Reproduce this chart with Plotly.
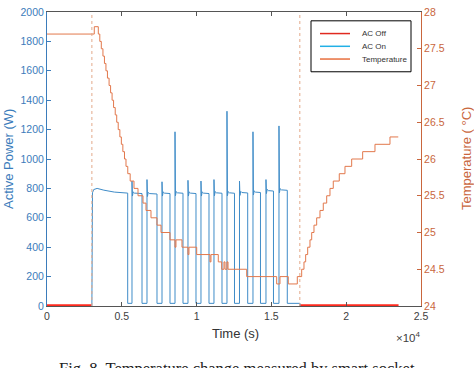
import plotly.graph_objects as go

# ---------------- data ----------------
# AC Off (red) : time (s), power (W)
off_t = [0, 3000, None, 16900, 23500]
off_p = [0, 0, None, 0, 0]

# AC On : first continuous run
first_on_t = [3000, 3000, 3040, 3120, 3350, 3800, 4500, 5394]
first_on_p = [0, 690, 770, 792, 800, 788, 775, 768]

# compressor off intervals (start, end) in s, and the idle level (W)
low_start = [5394, 6350, 7352, 8221, 9090, 9959, 10828, 11697, 12533, 13415, 14270, 15139, 16062]
low_end = [5681, 6684, 7687, 8556, 9424, 10293, 11162, 12031, 12867, 13769, 14638, 15507, 16910]
low_level = 18
# peak at each restart and running plateau, one per ON cycle
start_peak = [850, 860, 845, 1185, 855, 850, 860, 1325, 850, 1185, 860, 1225]
plateau = [768, 765, 768, 770, 768, 768, 770, 770, 772, 775, 785, 790]

# Temperature (deg C) : step times (s) and values
temp_t = [0, 3160, 3430, 3530, 3630, 3740, 3840, 3940, 4040, 4150, 4250, 4350,
          4450, 4560, 4660, 4760, 4870, 4970, 5070, 5180, 5280, 5400, 5560,
          5815, 6083, 6417, 6617, 6951, 7352, 7620, 8221, 8556, 8620, 9023,
          9424, 9490, 10006, 10895, 10960, 11450, 11677, 11830, 11900, 12030,
          12100, 13348, 15353, 15574, 16129, 16731, 17024, 17178, 17291, 17425,
          17579, 17693, 17846, 18027, 18247, 18468, 18696, 18916, 19136, 19537,
          19918, 20366, 21101, 21924, 22926, 23481]
temp_v = [27.7, 27.8, 27.7, 27.6, 27.5, 27.4, 27.3, 27.2, 27.1, 27.0, 26.9, 26.8,
          26.7, 26.6, 26.5, 26.4, 26.3, 26.2, 26.1, 26.0, 25.9, 25.8, 25.7,
          25.6, 25.5, 25.4, 25.3, 25.2, 25.1, 25.0, 24.9, 24.8, 24.9, 24.8,
          24.7, 24.8, 24.7, 24.6, 24.7, 24.6, 24.5, 24.6, 24.5, 24.6,
          24.5, 24.4, 24.3, 24.4, 24.3, 24.4, 24.5, 24.6, 24.7, 24.8,
          24.9, 25.0, 25.1, 25.2, 25.3, 25.4, 25.5, 25.6, 25.7, 25.8,
          25.9, 26.0, 26.1, 26.2, 26.3, 26.3]

switch_times = [3000, 16900]

x_tickvals = [0, 5000, 10000, 15000, 20000, 25000]
x_ticktext = ["0", "0.5", "1", "1.5", "2", "2.5"]
y_tickvals = list(range(0, 2001, 200))
y2_tickvals = [24, 24.5, 25, 25.5, 26, 26.5, 27, 27.5, 28]
y2_ticktext = ["24", "24.5", "25", "25.5", "26", "26.5", "27", "27.5", "28"]

legend_names = ["AC Off", "AC On", "Temperature"]

# ---------------- build AC On waveform from the listed values ----------------
on_t = list(first_on_t)
on_p = list(first_on_p)
for i in range(len(low_start)):
    on_t += [low_start[i], low_end[i]]
    on_p += [low_level, low_level]
    if i < len(start_peak):
        t_on, t_off = low_end[i], low_start[i + 1]
        pl = plateau[i]
        on_t += [t_on, t_on + 30, t_on + 80, t_on + 160, t_off]
        on_p += [start_peak[i], pl - 20, pl + 8, pl, pl - 3]
on_t += [16910]
on_p += [0]

BLUE = "#3f8cc8"
BLUE_AX = "#3b7cbb"
ORANGE = "#e2784c"
ORANGE_AX = "#c9663d"
RED = "#ff2a1e"
FONT = "Liberation Sans, Arial, sans-serif"
legend_colors = ["#e02a20", "#22b0e6", "#e8703f"]

fig = go.Figure()
fig.add_trace(go.Scatter(x=off_t, y=off_p, mode="lines", name="AC Off",
                         line=dict(color=RED, width=3.5), connectgaps=False))
fig.add_trace(go.Scatter(x=on_t, y=on_p, mode="lines", name="AC On",
                         line=dict(color=BLUE, width=1)))
fig.add_trace(go.Scatter(x=temp_t, y=temp_v, mode="lines", name="Temperature",
                         line=dict(color=ORANGE, width=1, shape="hv"), yaxis="y2"))

for st in switch_times:
    fig.add_shape(type="line", xref="x", yref="paper", x0=st, x1=st, y0=0, y1=1,
                  line=dict(color="#e3a98a", width=1, dash="dot"))

fig.update_layout(
    width=474, height=368,
    margin=dict(l=47, r=53, t=6, b=62),
    paper_bgcolor="white", plot_bgcolor="white",
    font=dict(family=FONT, size=10.5, color="#404040"),
    showlegend=False,
    xaxis=dict(range=[0, 25000], tickvals=x_tickvals, ticktext=x_ticktext,
               ticks="inside", ticklen=4, tickcolor="#555555",
               showline=True, linecolor="#555555", linewidth=1, mirror="ticks",
               showgrid=False, zeroline=False, ticklabeloverflow="allow",
               tickfont=dict(size=10.5, color="#404040")),
    yaxis=dict(range=[0, 2000], tickvals=y_tickvals,
               ticks="inside", ticklen=4, tickcolor=BLUE_AX,
               showline=True, linecolor=BLUE_AX, linewidth=1,
               showgrid=False, zeroline=False, ticklabeloverflow="allow",
               tickfont=dict(size=10.5, color=BLUE_AX)),
    yaxis2=dict(range=[24, 28], tickvals=y2_tickvals, ticktext=y2_ticktext,
                overlaying="y", side="right",
                ticks="inside", ticklen=4, tickcolor=ORANGE_AX,
                showline=True, linecolor=ORANGE_AX, linewidth=1,
                showgrid=False, zeroline=False, ticklabeloverflow="allow",
                tickfont=dict(size=10.5, color=ORANGE_AX)),
)

# pixel -> paper helpers for the plot area (47..421, 6..306)
def px(xp):
    return (xp - 47) / 374.0

def py(yp):
    return (306 - yp) / 300.0

# legend box drawn as in the reference
fig.add_shape(type="rect", xref="paper", yref="paper",
              x0=px(311), x1=px(411), y0=py(67), y1=py(15),
              line=dict(color="black", width=1), fillcolor="white", layer="above")
for k, (name, col) in enumerate(zip(legend_names, legend_colors)):
    yy = [28, 41, 54][k]
    fig.add_shape(type="line", xref="paper", yref="paper",
                  x0=px(320), x1=px(350), y0=py(yy), y1=py(yy),
                  line=dict(color=col, width=1.5), layer="above")
    fig.add_annotation(xref="paper", yref="paper", x=px(360), y=py(yy),
                       xanchor="left", yanchor="middle", showarrow=False,
                       text=name, font=dict(size=8, color="#333333"))

annots = [
    dict(text="Active Power (W)", x=px(8), y=0.5, textangle=-90,
         font=dict(size=13, color=BLUE_AX)),
    dict(text="Temperature ( °C)", x=px(466), y=0.5, textangle=-90,
         font=dict(size=13, color=ORANGE_AX)),
    dict(text="Time (s)", x=px(235), y=py(334), font=dict(size=13, color="#333333")),
    dict(text="×10<sup>4</sup>", x=px(408), y=py(338), font=dict(size=11.5, color="#404040")),
]
for a in annots:
    fig.add_annotation(xref="paper", yref="paper", showarrow=False,
                       xanchor="center", yanchor="middle", **a)

fig.add_annotation(xref="paper", yref="paper", x=px(237), y=py(358), showarrow=False,
                   xanchor="center", yanchor="top",
                   text="Fig. 8. Temperature change measured by smart socket",
                   font=dict(family="Liberation Serif, Times New Roman, serif",
                             size=16.5, color="#222222"))

fig.write_html("out.html", config={"displayModeBar": False},
               post_script="document.body.style.margin='0';")
